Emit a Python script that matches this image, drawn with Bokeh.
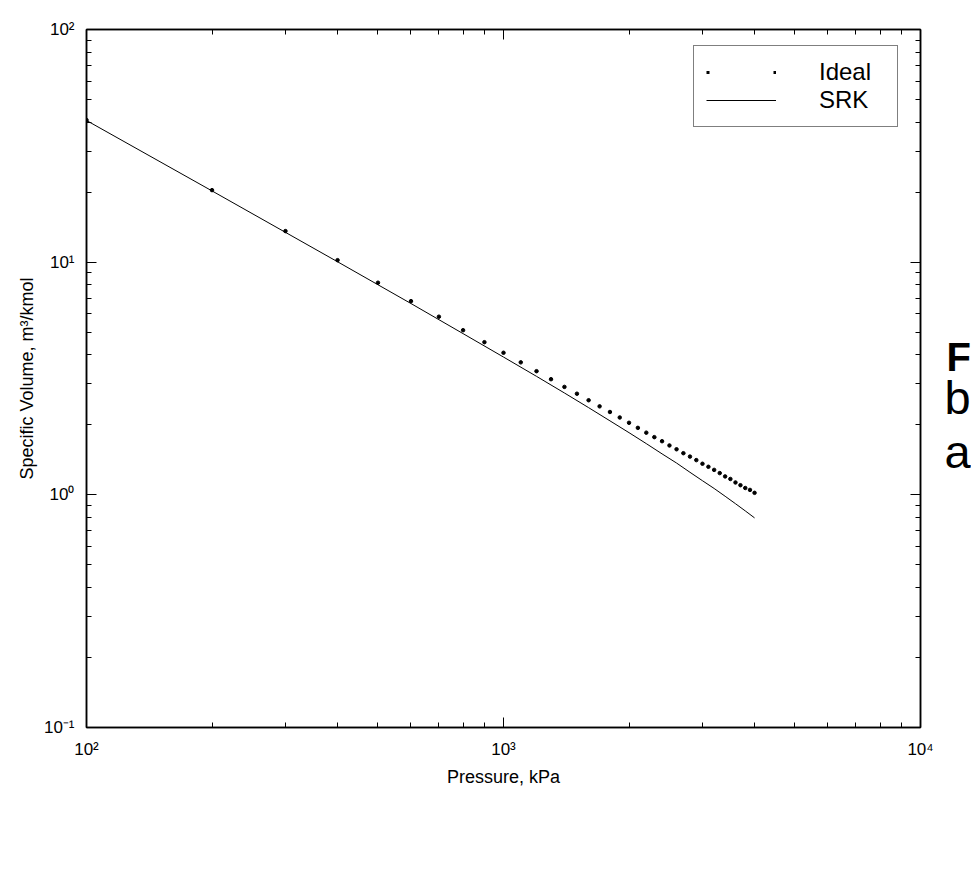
from bokeh.plotting import figure
from bokeh.models import LogAxis, FixedTicker, Legend, LegendItem, Label, CustomJSTickFormatter
from bokeh.embed import file_html
from bokeh.resources import INLINE

# ---- data ----
pressure_ideal = [100, 200, 300, 400, 500, 600, 700, 800, 900, 1000,
                  1100, 1200, 1300, 1400, 1500, 1600, 1700, 1800, 1900, 2000,
                  2100, 2200, 2300, 2400, 2500, 2600, 2700, 2800, 2900, 3000,
                  3100, 3200, 3300, 3400, 3500, 3600, 3700, 3800, 3900, 4000]
volume_ideal = [40.8, 20.4, 13.6, 10.2, 8.16, 6.8, 5.83, 5.1, 4.53, 4.08,
                3.71, 3.4, 3.14, 2.91, 2.72, 2.55, 2.4, 2.27, 2.15, 2.04,
                1.94, 1.85, 1.77, 1.7, 1.63, 1.57, 1.51, 1.46, 1.41, 1.36,
                1.32, 1.28, 1.24, 1.2, 1.17, 1.13, 1.1, 1.07, 1.05, 1.02]

pressure_srk = [100, 200, 400, 600, 800, 1000, 1200, 1400, 1600, 1800, 2000,
                2200, 2400, 2600, 2800, 3000, 3200, 3400, 3600, 3800, 4000]
volume_srk = [40.64, 20.24, 10.04, 6.64, 4.93, 3.91, 3.23, 2.74, 2.37, 2.08, 1.85,
              1.66, 1.50, 1.37, 1.25, 1.15, 1.065, 0.986, 0.916, 0.853, 0.796]

x_major = [100.0, 1000.0, 10000.0]
x_major_labels = ["10\u00b2", "10\u00b3", "10\u2074"]
y_major = [0.1, 1.0, 10.0, 100.0]
y_major_labels = ["10\u207b\u00b9", "10\u2070", "10\u00b9", "10\u00b2"]

# caption at the right edge: only its first letters are inside the window
caption_bold = "F"
caption_rest = "b\na"

FONT = "Liberation Sans"

x_minor = [m * 10.0 ** k for k in (2, 3) for m in range(2, 10)]
y_minor = [m * 10.0 ** k for k in (-1, 0, 1) for m in range(2, 10)]

p = figure(width=971, height=860, x_axis_type="log", y_axis_type="log",
           x_range=(100, 10000), y_range=(0.1, 100),
           output_backend="svg", toolbar_location=None,
           min_border_left=86, min_border_right=51,
           min_border_top=29, min_border_bottom=133)
p.grid.visible = False
p.outline_line_color = "black"
p.outline_line_width = 1.5
p.background_fill_color = "white"
p.border_fill_color = "white"


def style_axis(ax):
    ax.axis_line_color = "black"
    ax.axis_line_width = 1.5
    ax.major_tick_in = 10
    ax.major_tick_out = 0
    ax.minor_tick_in = 5
    ax.minor_tick_out = 0
    ax.major_tick_line_color = "black"
    ax.minor_tick_line_color = "black"
    ax.major_label_text_font = FONT
    ax.major_label_text_color = "black"
    ax.major_label_text_font_size = "17px"
    ax.axis_label_text_font = FONT
    ax.axis_label_text_font_style = "normal"
    ax.axis_label_text_font_size = "18px"
    ax.axis_label_text_color = "black"


x_fmt = CustomJSTickFormatter(args=dict(vals=x_major, labs=x_major_labels), code="""
    for (let i = 0; i < vals.length; i++) {
        if (Math.abs(Math.log10(tick) - Math.log10(vals[i])) < 1e-6) { return labs[i]; }
    }
    return '';
""")
y_fmt = CustomJSTickFormatter(args=dict(vals=y_major, labs=y_major_labels), code="""
    for (let i = 0; i < vals.length; i++) {
        if (Math.abs(Math.log10(tick) - Math.log10(vals[i])) < 1e-6) { return labs[i]; }
    }
    return '';
""")
blank_fmt = CustomJSTickFormatter(code="return '';")

xa = p.xaxis[0]
xa.ticker = FixedTicker(ticks=x_major, minor_ticks=x_minor)
xa.formatter = x_fmt
xa.axis_label = "Pressure, kPa"
xa.major_label_standoff = 12
xa.axis_label_standoff = 5
style_axis(xa)

ya = p.yaxis[0]
ya.ticker = FixedTicker(ticks=y_major, minor_ticks=y_minor)
ya.formatter = y_fmt
ya.axis_label = "Specific Volume, m\u00b3/kmol"
ya.major_label_standoff = 12
ya.axis_label_standoff = 4
style_axis(ya)

top = LogAxis(ticker=FixedTicker(ticks=x_major, minor_ticks=x_minor), formatter=blank_fmt)
style_axis(top)
top.major_label_standoff = 0
p.add_layout(top, "above")
right = LogAxis(ticker=FixedTicker(ticks=y_major, minor_ticks=y_minor), formatter=blank_fmt)
style_axis(right)
right.major_label_standoff = 0
p.add_layout(right, "right")

ideal_r = p.scatter(pressure_ideal, volume_ideal, size=3.5, color="black", marker="circle")
srk_r = p.line(pressure_srk, volume_srk, color="black", line_width=1)
# one-point line: draws nothing in the plot, gives the two-dot legend sample
ideal_legend_glyph = p.line(x=[pressure_ideal[0]], y=[volume_ideal[0]], color="black",
                            line_width=3, line_dash="3 64")

legend = Legend(items=[LegendItem(label="Ideal", renderers=[ideal_legend_glyph]),
                       LegendItem(label="SRK", renderers=[srk_r])],
                location=(607, 600), orientation="vertical",
                border_line_color="black", border_line_width=1,
                background_fill_color="white", background_fill_alpha=1,
                padding=12, spacing=-1, margin=0,
                glyph_width=70, glyph_height=26, label_height=26,
                label_width=66, label_standoff=43,
                label_text_font=FONT, label_text_font_size="24px",
                label_text_color="black")
p.add_layout(legend)

p.add_layout(Label(x=26, y=371, x_units="screen", y_units="screen", text=caption_bold,
                   text_font=FONT, text_font_size="40px", text_font_style="bold",
                   text_color="black", text_baseline="alphabetic"), "right")
p.add_layout(Label(x=0, y=357, x_units="screen", y_units="screen", text=caption_rest,
                   text_font=FONT, text_font_size="47px", text_line_height=1.02,
                   text_color="black", text_baseline="top"), "right")

open("out.html", "w").write(file_html(p, INLINE))
